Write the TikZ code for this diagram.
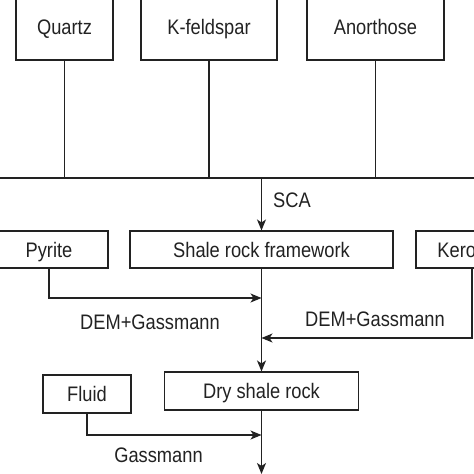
\documentclass[tikz,border=0pt]{standalone}
\usepackage{fontspec}
\setmainfont[FakeStretch=0.87]{Liberation Sans}
\usetikzlibrary{arrows.meta}
\definecolor{ink}{HTML}{222222}
\begin{document}
\begin{tikzpicture}[x=1pt,y=-1pt,
  every node/.style={font=\fontsize{21}{24}\selectfont, text=ink},
  box/.style={draw=ink, line width=1.1pt, inner sep=0pt, text height=15pt, text depth=0pt},
  lbl/.style={inner sep=0pt, text height=15pt, text depth=0pt},
  conn/.style={draw=ink, line width=1.1pt},
  arr/.style={conn, -{Stealth[length=11pt,width=9pt,inset=3pt]}}]
\useasboundingbox (0,0) rectangle (474,474);
\clip (0,0) rectangle (474,474);
\fill[white] (0,0) rectangle (474,474);
% top minerals
\node[box, minimum width=97pt, minimum height=66pt] (quartz) at (64.5,27) {Quartz};
\node[box, minimum width=136pt, minimum height=66pt] (kfeld) at (209,27) {K-feldspar};
\node[box, minimum width=137pt, minimum height=66pt] (anor) at (375.5,27) {Anorthose};
% bus
\coordinate (busL) at (-5,178);
\coordinate (busR) at (480,178);
\coordinate (busM) at (261.5,178);
\draw[conn] (busL) -- (busR);
\draw[conn] (quartz.south) -- (quartz.south |- busL);
\draw[conn] (kfeld.south) -- (kfeld.south |- busL);
\draw[conn] (anor.south) -- (anor.south |- busL);
% second row
\node[box, minimum width=118pt, minimum height=37pt] (pyrite) at (49,249.5) {Pyrite};
\node[box, minimum width=263pt, minimum height=37pt] (frame) at (261.5,249.5) {Shale rock framework};
\node[box, minimum width=112pt, minimum height=37pt] (kero) at (472,249.5) {Kerogen};
\draw[arr] (busM) -- (frame.north);
\node[lbl] (sca) at (292,200) {SCA};
% third row
\node[box, minimum width=194pt, minimum height=38pt] (dry) at (261.5,391) {Dry shale rock};
\node[box, minimum width=88pt, minimum height=38pt] (fluid) at (87,394) {Fluid};
\draw[arr] (frame.south) -- (dry.north);
\coordinate (pj) at (261.5,298);
\coordinate (kj) at (261.5,338);
\coordinate (fj) at (261.5,435);
\draw[arr] (pyrite.south) |- (pj);
\draw[arr] (kero.south) |- (kj);
\node[lbl] (dem1) at (150,322) {DEM+Gassmann};
\node[lbl] (dem2) at (375,319) {DEM+Gassmann};
% final
\coordinate (out) at (261.5,474);
\draw[arr] (dry.south) -- (out);
\draw[arr] (fluid.south) |- (fj);
\node[lbl] (gass) at (158.5,455) {Gassmann};
\end{tikzpicture}
\end{document}
